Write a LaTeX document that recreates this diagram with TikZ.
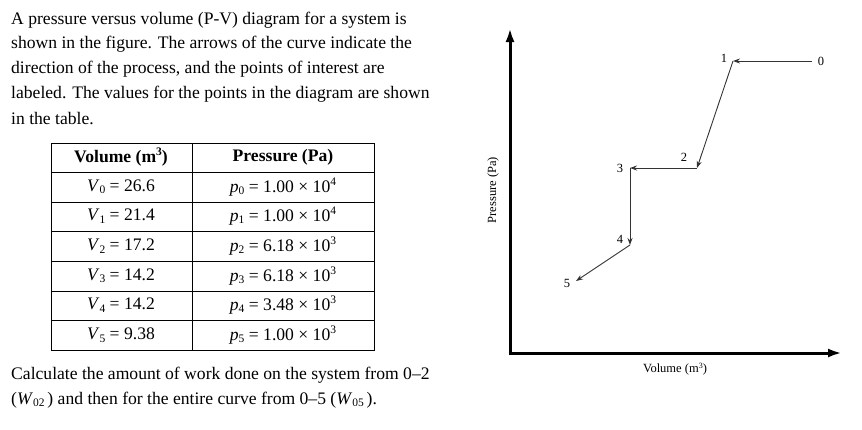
\documentclass[tikz,border=0pt]{standalone}
\usepackage{fontspec}
\setmainfont{Liberation Serif}
\usetikzlibrary{arrows.meta}
\newcommand{\subx}[1]{\raisebox{-0.3ex}{\fontsize{11.5}{12}\selectfont #1}}
\newcommand{\supx}[1]{\raisebox{0.85ex}{\fontsize{11.5}{12}\selectfont #1}}
\begin{document}
\begin{tikzpicture}[x=1pt,y=-1pt,
  txt/.style={anchor=west,inner sep=0pt,font=\fontsize{17.6}{20}\selectfont},
  cell/.style={inner sep=0pt,font=\fontsize{17.6}{20}\selectfont},
  lab/.style={inner sep=0pt,font=\fontsize{12.5}{14}\selectfont},
  seg/.style={draw=black!80,line width=0.9pt,-{Stealth[length=7pt,width=5pt]}},
  axis/.style={line width=3pt,-{Latex[length=14pt,width=9pt]}}]
\useasboundingbox (0,0) rectangle (862,429);
\node[txt] (t1) at (11,20) {A pressure versus volume (P-V) diagram for a system is};
\node[txt] (t2) at (11,44) {shown in the figure. The arrows of the curve indicate the};
\node[txt] (t3) at (11,69) {direction of the process, and the points of interest are};
\node[txt] (t4) at (11,94) {labeled. The values for the points in the diagram are shown};
\node[txt] (t5) at (11,119) {in the table.};
% table
\draw[line width=0.8pt] (51,143) rectangle (374,350);
\foreach \y in {172,202,231,261,291,320} \draw[line width=0.8pt] (51,\y) -- (374,\y);
\draw[line width=0.8pt] (192,143) -- (192,350);
\node[cell] (h1) at (121,157) {\textbf{Volume (m\supx{\textbf{3}})}};
\node[cell] (h2) at (283,157) {\textbf{Pressure (Pa)}};
\node[cell] (v0) at (121,187) {\textit{V}\subx{0} = 26.6};
\node[cell] (v1) at (121,216) {\textit{V}\subx{1} = 21.4};
\node[cell] (v2) at (121,246) {\textit{V}\subx{2} = 17.2};
\node[cell] (v3) at (121,276) {\textit{V}\subx{3} = 14.2};
\node[cell] (v4) at (121,305) {\textit{V}\subx{4} = 14.2};
\node[cell] (v5) at (121,335) {\textit{V}\subx{5} = 9.38};
\node[cell] (p0) at (283,187) {\textit{p}\subx{0} = 1.00 × 10\supx{4}};
\node[cell] (p1) at (283,216) {\textit{p}\subx{1} = 1.00 × 10\supx{4}};
\node[cell] (p2) at (283,246) {\textit{p}\subx{2} = 6.18 × 10\supx{3}};
\node[cell] (p3) at (283,276) {\textit{p}\subx{3} = 6.18 × 10\supx{3}};
\node[cell] (p4) at (283,305) {\textit{p}\subx{4} = 3.48 × 10\supx{3}};
\node[cell] (p5) at (283,335) {\textit{p}\subx{5} = 1.00 × 10\supx{3}};
\node[txt] (q1) at (11,375) {Calculate the amount of work done on the system from 0–2};
\node[txt] (q2) at (11,400) {(\textit{W}\subx{02}\,) and then for the entire curve from 0–5 (\textit{W}\subx{05}\,).};
% graph
\coordinate (O) at (510,353);
\coordinate (Y) at (510,28);
\coordinate (X) at (842,353);
\draw[axis] (O) -- (Y);
\draw[axis] (508.5,353) -- (X);
\node[lab,rotate=90] (pl) at (493,190) {Pressure (Pa)};
\node[lab] (vl) at (675,369) {Volume (m\raisebox{0.8ex}{\fontsize{8}{9}\selectfont 3})};
\coordinate (c0) at (812,61);
\coordinate (c1) at (733,61);
\coordinate (c2) at (697,168);
\coordinate (c3) at (630,168);
\coordinate (c4) at (630,245);
\coordinate (c5) at (576,281);
\draw[seg] (c0) -- (c1);
\draw[seg] (c1) -- (c2);
\draw[seg] (c2) -- (c3);
\draw[seg] (c3) -- (c4);
\draw[seg] (c4) -- (c5);
\node[lab] (l0) at (821,61) {0};
\node[lab] (l1) at (724,58) {1};
\node[lab] (l2) at (684,157) {2};
\node[lab] (l3) at (620,168) {3};
\node[lab] (l4) at (620,239) {4};
\node[lab] (l5) at (567,283) {5};
\end{tikzpicture}
\end{document}
